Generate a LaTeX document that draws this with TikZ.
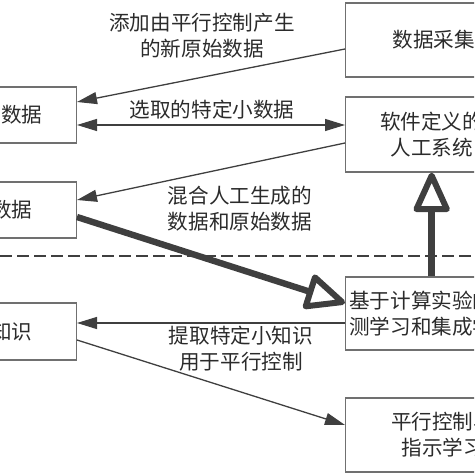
\documentclass[tikz,border=0pt]{standalone}
\usepackage{fontspec}
\usepackage{xcolor}
\usepackage{tikz}
\usetikzlibrary{arrows.meta,calc}
\newfontfamily\cjk{Noto Sans CJK SC}
\definecolor{boxline}{HTML}{707070}
\definecolor{arrline}{HTML}{3F3F3F}
\definecolor{txt}{HTML}{2B2B2B}
\tikzset{
  box/.style={draw=boxline, line width=0.65pt, text=txt, inner sep=1.5pt, align=center,
    font=\cjk\fontsize{10.3pt}{13pt}\selectfont},
  lbl/.style={text=txt, inner sep=0pt, align=center, font=\cjk\fontsize{10.3pt}{13pt}\selectfont},
  arr/.style={-{Triangle[length=10pt,width=6pt]}, line width=0.65pt, draw=arrline},
  darr/.style={{Triangle[length=10pt,width=6pt]}-{Triangle[length=10pt,width=6pt]}, line width=0.65pt, draw=arrline},
  fatarr/.style={-{Triangle[open,length=22pt,width=19pt,line width=3pt,round]}, line width=3.2pt, draw=arrline},
  sep/.style={dashed, dash pattern=on 6pt off 2.5pt, line width=0.6pt, draw=arrline}
}

\begin{document}
\begin{tikzpicture}[x=0.5pt,y=-0.5pt]
  \useasboundingbox (0,0) rectangle (474,474);
  \clip (0,0) rectangle (474,474);
  % left column
  \node[box, anchor=east, minimum width=75pt, minimum height=28pt] (raw) at (77,115) {原始数据};
  \node[box, anchor=east, minimum width=75pt, minimum height=28pt] (big) at (77,210) {大数据};
  \node[box, anchor=east, minimum width=75pt, minimum height=28.5pt] (know) at (77,331.5) {小知识};
  % right column
  \node[box, anchor=west, minimum width=119pt, minimum height=37pt] (dc) at (345,40) {数据采集与处理};
  \node[box, anchor=west, minimum width=86pt, minimum height=37.5pt] (sw) at (345,134.5) {软件定义的\\人工系统};
  \node[box, anchor=west, minimum width=86pt, minimum height=36.5pt, align=left] (comp) at (345,313.5) {基于计算实验的预\\测学习和集成学习};
  \node[box, anchor=west, minimum width=97pt, minimum height=37pt] (pc) at (345,435) {平行控制与\\指示学习};

  \draw[sep] (0,256) -- (474,256);

  \draw[arr] ([yshift=-4.5pt]dc.west) -- ([yshift=6.5pt]raw.east);
  \draw[darr] ([yshift=-5pt]raw.east) -- ([yshift=4.75pt]sw.west);
  \draw[arr] ([yshift=-4.25pt]sw.west) -- ([yshift=5pt]big.east);
  \draw[fatarr] ([yshift=-3.5pt]big.east) -- ([yshift=5.25pt]comp.west);
  \draw[fatarr] (comp.north) -- (sw.south);
  \draw[arr] ([yshift=-4.75pt]comp.west) -- ([yshift=4.25pt]know.east);
  \draw[arr] ([yshift=-4.25pt]know.east) -- ([yshift=5pt]pc.west);

  \node[lbl] (l1) at (202,35.5) {添加由平行控制产生\\的新原始数据};
  \node[lbl] (l2) at (212,110) {选取的特定小数据};
  \node[lbl] (l3) at (240,208.5) {混合人工生成的\\数据和原始数据};
  \node[lbl] (l4) at (241,348.5) {提取特定小知识\\用于平行控制};
\end{tikzpicture}
\end{document}
